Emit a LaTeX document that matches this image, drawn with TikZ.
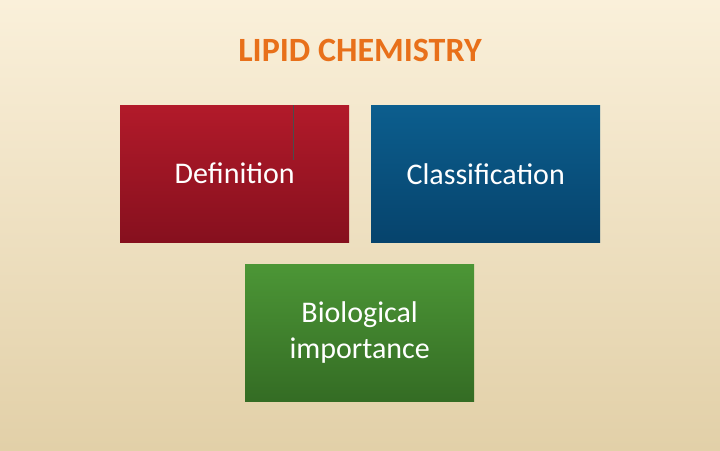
\documentclass[tikz,border=0pt]{standalone}
\usepackage{fontspec}
\setmainfont{Carlito}
\begin{document}
\begin{tikzpicture}[x=1pt,y=-1pt]
\definecolor{bgtop}{HTML}{FAF0DA}\definecolor{bgbot}{HTML}{E2D0A8}
\definecolor{rtop}{HTML}{B21A2A}\definecolor{rbot}{HTML}{86101E}
\definecolor{btop}{HTML}{0C5E8E}\definecolor{bbot}{HTML}{06436C}
\definecolor{gtop}{HTML}{4C9636}\definecolor{gbot}{HTML}{346C24}
\definecolor{ttl}{HTML}{E8701A}
\tikzset{box/.style={minimum width=229pt,minimum height=137pt,inner sep=0pt,text=white,font=\fontsize{30}{36}\selectfont,align=center,anchor=north west}}
\shade[top color=bgtop,bottom color=bgbot] (0,0) rectangle (720,450);
\useasboundingbox (0,0) rectangle (720,450);
\node[text=ttl,font=\fontsize{34}{40}\selectfont\bfseries] (title) at (360,50) {LIPID CHEMISTRY};
\node[box,top color=rtop,bottom color=rbot] (def) at (120,105) {Definition};
\node[box,top color=btop,bottom color=bbot] (cls) at (371,105) {Classification};
\node[box,top color=gtop,bottom color=gbot] (bio) at (245,264) {Biological\\importance};
\coordinate (lt) at (293,105); \coordinate (lb) at (293,160);
\draw[black!70,line width=0.6pt] (lt) -- (lb);
\end{tikzpicture}
\end{document}
